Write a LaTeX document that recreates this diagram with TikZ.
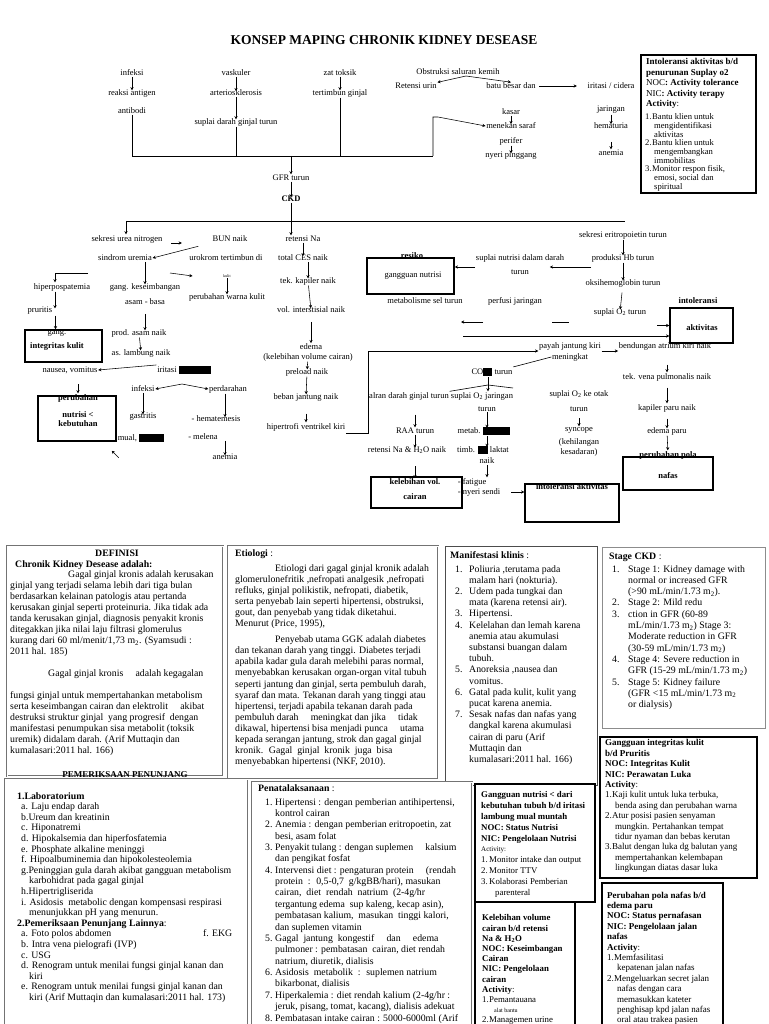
\documentclass[tikz,border=0pt]{standalone}
\usepackage{fontspec}
\setmainfont{Liberation Serif}
\usepackage{tikz}
\usetikzlibrary{arrows.meta}
\newcommand{\mapfont}{\fontsize{8.5}{9}\selectfont}
\newcommand{\tinyfont}{\fontsize{4}{4}\selectfont}
\newcommand{\bodyfont}{\fontsize{9.8}{11}\selectfont}
\newcommand{\cardfont}{\fontsize{9}{10.4}\selectfont}
\newcommand{\itm}[2][14pt]{\makebox[#1][l]{#2}}
\newcommand{\ind}[1][14pt]{\hspace*{#1}}
\newcommand{\blot}[1]{\rule[-1.6pt]{#1}{8.5pt}}
\tikzset{
  lbl/.style     = {font=\mapfont, inner sep=0.6pt, align=center},
  lblb/.style    = {lbl, font=\mapfont\bfseries},
  mapbox/.style  = {draw, line width=1.5pt, fill=white, inner sep=0pt},
  flow/.style    = {-{Stealth[length=3.2pt,width=3.2pt]}, line width=0.55pt},
  stub/.style    = {flow, shorten >=-2pt},
  link/.style    = {line width=0.6pt},
  panel/.style   = {draw=black!55, double=white, double distance=1pt,
                    line width=0.45pt, fill=white, inner sep=0pt,
                    outer sep=0pt, anchor=north west},
  sheet/.style   = {draw=black!70, line width=0.8pt, fill=white,
                    inner sep=0pt, outer sep=0pt, anchor=north west},
  card/.style    = {draw, line width=1.6pt, fill=white, inner sep=0pt,
                    outer sep=0pt, anchor=north west},
  body/.style    = {font=\bodyfont, align=left, inner sep=0pt, anchor=north west},
  cardtxt/.style = {font=\cardfont, align=left, inner sep=0pt, anchor=north west},
}
\begin{document}
\begin{tikzpicture}[x=1pt, y=-1pt]
\path[use as bounding box, fill=white] (0,0) rectangle (768,1024);

\node[font=\fontsize{13.5}{15}\selectfont\bfseries, inner sep=0pt] (title)
  at (384,40) {KONSEP MAPING CHRONIK KIDNEY DESEASE};

% ---------- causes --------------------------------------------------
\node[lbl] (inf)   at (132,73)  {infeksi};
\node[lbl] (rag)   at (132,93)  {reaksi antigen};
\node[lbl] (ab)    at (132,111) {antibodi};
\node[lbl] (vask)  at (236,73)  {vaskuler};
\node[lbl] (arter) at (236,93)  {arteriosklerosis};
\node[lbl] (supd)  at (236,122) {suplai darah ginjal turun};
\node[lbl] (zat)   at (340,73)  {zat toksik};
\node[lbl] (tert)  at (340,93)  {tertimbun ginjal};
\node[lbl] (obs)   at (458,72)  {Obstruksi saluran kemih};
\node[lbl] (ret)   at (416,86)  {Retensi urin};
\node[lbl] (batu)  at (511,86)  {batu besar dan};
\node[lbl] (kasar) at (511,112) {kasar};
\node[lbl] (saraf) at (511,126) {menekan saraf};
\node[lbl] (perif) at (511,141) {perifer};
\node[lbl] (nyeri) at (511,156) {nyeri pinggang};
\node[lbl] (irit)  at (611,86)  {iritasi / cidera};
\node[lbl] (jar)   at (611,110) {jaringan};
\node[lbl] (hem)   at (611,126) {hematuria};
\node[lbl] (anem)  at (611,153) {anemia};
\node[lbl] (gfr)   at (291,178) {GFR turun};
\node[lblb] (ckd)  at (291,199) {CKD};

\draw[stub] (inf) -- (rag);
\draw[stub] (vask) -- (arter);
\draw[stub] (arter) -- (supd);
\draw[stub] (zat) -- (tert);
\coordinate (obsP) at (466,76);
\draw[flow] (obsP) -- (ret.north east);
\draw[flow] (obsP) -- (batu.north);
\draw[stub] (kasar) -- (saraf);
\draw[stub] (perif) -- (nyeri);
\draw[flow, shorten <=3pt, shorten >=10pt] (batu.east) -- (irit.west);
\draw[stub] (jar) -- (hem);
\draw[flow, shorten <=12pt] (hem) -- (anem);

% first bus, into GFR
\coordinate (busR) at (433,156);
\draw[link] (ab.south) |- (busR);
\draw[link] (supd.south) -- (supd.south |- busR);
\draw[link] (tert.south) -- (tert.south |- busR);
\draw[flow] (busR) -- ++(0,-39) -- ++(5,0) -- (saraf.west);
\draw[flow] (gfr.north |- busR) -- (gfr.north);
\draw[stub] (gfr) -- (ckd);

% top right card
\node[card, minimum width=115, minimum height=138] (actbox) at (641,55) {};
\node[cardtxt, font=\fontsize{9}{10.5}\selectfont\bfseries] (acthead) at (646,58.5)
  {Intoleransi aktivitas b/d\\ penurunan Suplay o2\\ \textmd{NOC}: Activity tolerance\\
   \textmd{NIC}: Activity terapy\\ Activity\textmd{:}};
\node[cardtxt, font=\fontsize{8.6}{8.7}\selectfont] (actlist) at (645,113.5)
  {\itm[7pt]{1.}Bantu klien untuk\\ \ind[9pt]mengidentifikasi\\ \ind[9pt]aktivitas\\
   \itm[7pt]{2.}Bantu klien untuk\\ \ind[9pt]mengembangkan\\ \ind[9pt]immobilitas\\
   \itm[7pt]{3.}Monitor respon fisik,\\ \ind[9pt]emosi, social dan\\ \ind[9pt]spiritual};

% ---------- CKD branches ---------------------------------------------
\coordinate (bus2L) at (126,221);
\coordinate (bus2R) at (625,221);
\draw[link] (ckd.south) -- (ckd.south |- bus2L);
\draw[link] (bus2L) -- (bus2R);

\node[lbl] (sun)  at (127,239) {sekresi urea nitrogen};
\node[lbl] (bun)  at (230,239) {BUN naik};
\node[lbl] (rna)  at (303,239) {retensi Na};
\node[lbl] (sur)  at (125,258) {sindrom uremia};
\node[lbl] (urok) at (226,258) {urokrom tertimbun di};
\node[lbl] (ces)  at (303,258) {total CES naik};
\node[lbl, font=\tinyfont] (kul) at (227,276) {kulit};
\node[lbl] (hip)  at (62,287)  {hiperpospatemia};
\node[lbl] (gkb)  at (145,287) {gang. keseimbangan};
\node[lbl] (asb)  at (145,302) {asam - basa};
\node[lbl] (pwk)  at (227,297) {perubahan warna kulit};
\node[lbl] (tkn)  at (308,281) {tek. kapiler naik};
\node[lbl] (prur) at (40,311)  {pruritis};
\node[lbl] (vin)  at (311,310) {vol. interstisial naik};
\node[mapbox, minimum width=77, minimum height=32] (gik) at (63.5,346) {};
\node[lbl]  (gikA) at (57,333) {gang.};
\node[lblb] (gikB) at (57,346) {integritas kulit};
\node[lbl] (pan)  at (139,333) {prod. asam naik};
\node[lbl] (aln)  at (141,353) {as. lambung naik};
\node[lbl] (nv)   at (70,370)  {nausea, vomitus};
\node[lbl] (iri)  at (184,370) {iritasi \blot{32pt}};
\node[lbl] (ede)  at (311,347) {edema};
\node[lbl] (kvc)  at (308,357) {(kelebihan volume cairan)};
\node[lbl] (pre)  at (307,372) {preload naik};

\draw[flow] (bus2L) -- (bus2L |- sun.north);
\draw[flow] (ckd.south |- bus2L) -- (ckd.south |- rna.north);
\draw[flow, shorten <=8pt, shorten >=30pt] ([yshift=-4pt]sun.east) -- ([yshift=-4pt]bun.west);
\draw[flow, shorten <=14pt] (bun.south west) -- (sur.east);
\coordinate (hipK) at (88,273);
\draw[flow] (hipK) -| ([xshift=-7pt]hip.north);
\draw[stub] (gkb.north |- sur.south) -- (gkb.north);
\coordinate (kulA) at (170,273);
\draw[flow] (kulA) -- ([xshift=-30pt]kul.west);
\draw[stub] (kul) -- (pwk);
\draw[stub] (rna) -- (ces);
\draw[stub] (tkn.north |- ces.south) -- (tkn.north);
\draw[stub] (tkn) -- (vin);
\draw[flow, shorten <=8pt] (vin) -- (ede);
\draw[stub] (kvc) -- (pre);
\draw[stub] ([xshift=-7pt]hip.south) -- ([xshift=-7pt]hip.south |- prur.north);
\draw[flow] ([xshift=-8pt]gik.north |- prur.south) -- ([xshift=-8pt]gik.north);
\draw[stub, shorten <=8pt] (asb) -- (asb |- pan.north);
\draw[stub] (pan) -- (aln);
\draw[flow] (iri.north west) -- (nv.east);

% gastric branch
\node[lbl] (inf2)  at (143,389) {infeksi};
\node[lbl] (perd)  at (228,389) {perdarahan};
\node[mapbox, minimum width=78, minimum height=45] (nutbox) at (77,418.5) {};
\node[lblb] (nutA) at (78,398) {perubahan};
\node[lblb] (nutB) at (78,419.5) {nutrisi <\\ kebutuhan};
\node[lbl] (gast)  at (143,417) {gastritis};
\node[lbl] (hemt)  at (216,419) {- hematemesis};
\node[lbl] (mual)  at (141,438) {mual, \blot{25pt}};
\node[lbl] (mel)   at (203,437) {- melena};
\node[lbl] (anem2) at (225,457) {anemia};

\coordinate (iriP) at (182,384);
\draw[flow] (iriP) -- (inf2.east);
\draw[flow] (iriP) -- (perd.west);
\draw[flow, shorten <=10pt] ([xshift=8pt]nv.south) -- (nutA.north);
\draw[stub] (inf2) -- (gast);
\draw[stub] ([xshift=-3pt]perd.south) -- ([xshift=-3pt]perd.south |- hemt.north);
\draw[stub] (anem2.north |- mel.south) -- (anem2.north);
\draw[flow] ([shift={(2pt,-16pt)}]nutbox.south east) -- ([shift={(-5pt,-9pt)}]nutbox.south east);

% ---------- blood, oxygen and heart ---------------------------------
\node[lbl] (seri) at (623,235) {sekresi eritropoietin turun};
\node[lbl] (phb)  at (623,258) {produksi Hb turun};
\node[lbl] (snd)  at (520,258) {suplai nutrisi dalam darah};
\node[lbl] (snt)  at (520,272) {turun};
\node[mapbox, minimum width=87, minimum height=36] (gnbox) at (410.5,276) {};
\node[lblb] (gnA) at (412,256) {resiko};
\node[lbl]  (gnB) at (413,276) {gangguan nutrisi};
\node[lbl] (oks)  at (623,283) {oksihemoglobin turun};
\node[lbl] (mst)  at (425,301) {metabolisme sel turun};
\node[lbl] (pfj)  at (515,301) {perfusi jaringan};
\node[lblb] (intl) at (698,301) {intoleransi};
\node[lbl] (so2)  at (620,312) {suplai O\textsubscript{2} turun};
\node[mapbox, minimum width=63, minimum height=35] (aktbox) at (701.5,325.5) {};
\node[lblb] (aktA) at (702,328) {aktivitas};
\node[lbl] (pjk)  at (570,346) {payah jantung kiri};
\node[lbl] (mgk)  at (570,357) {meningkat};
\node[lbl] (bak)  at (665,346) {bendungan atrium kiri naik};
\node[lbl] (co)   at (492,372) {CO\blot{9pt} turun};
\node[lbl] (tvp)  at (667,377) {tek. vena pulmonalis naik};
\node[lbl] (bjn)  at (306,397) {beban jantung naik};
\node[lbl] (hvk)  at (306,427) {hipertrofi ventrikel kiri};

\draw[stub] (seri) -- (phb);
\draw[stub] (phb) -- (oks);
\draw[stub, shorten <=5pt] (oks) -- (so2);
\draw[flow, shorten >=20pt] ([yshift=-9pt]phb.west) -- ([yshift=-9pt]phb.west -| snt.east);
\draw[flow] ([yshift=-9pt]snd.west) -- ([yshift=-9pt]snd.west -| gnbox.east);
\coordinate (pfA) at (483,322);
\coordinate (pfB) at (552,322);
\draw[flow] (pfA) -- ++(-22,0);
\draw[link] (pfB) -- ++(17,0);
\draw[flow] ([xshift=-12pt]aktbox.west) -- (aktbox.west);
\coordinate (longA) at (463,336);
\draw[flow] (longA) -- (longA -| aktbox.west);
\draw[stub] (pre) -- (bjn);
\draw[flow, shorten <=12pt] (bjn) -- (hvk);
\draw[flow] ([yshift=-6pt]hvk.east) -- ++(22,0) |- ([yshift=-5pt]pjk.west);
\draw[flow] ([yshift=-5pt]pjk.east) -- ([yshift=-5pt]bak.west);
\draw[link] (mgk.west) -- (co.north east);
\draw[flow, shorten <=14pt] (tvp.north |- bak.south) -- (tvp.north);

% ---------- cardiac output branches ---------------------------------
\node[lbl] (adg)   at (409,396) {alran darah ginjal turun};
\node[lbl] (soj)   at (482,396) {suplai O\textsubscript{2} jaringan};
\node[lbl] (sojt)  at (487,409) {turun};
\node[lbl] (raa)   at (415,431) {RAA turun};
\node[lbl] (metab) at (484,431) {metab. \blot{27pt}};
\node[lbl] (rnh)   at (407,450) {retensi Na \& H\textsubscript{2}O naik};
\node[lbl] (timb)  at (483,450) {timb. \blot{10pt} laktat};
\node[lbl] (naik)  at (487,461) {naik};
\node[mapbox, minimum width=91, minimum height=31] (kvbox) at (416.5,492.5) {};
\node[lblb] (kvA)  at (415,482) {kelebihan vol.};
\node[lblb] (kvB)  at (415,497) {cairan};
\node[lbl, anchor=west] (fat) at (457,482) {- fatigue};
\node[lbl, anchor=west] (nys) at (457,492) {- nyeri sendi};
\node[mapbox, minimum width=94, minimum height=38] (iabox) at (572,503) {};
\node[lblb] (iaA)  at (572,487) {intoleransi aktivitas};
\node[lbl] (sok)   at (579,394) {suplai O\textsubscript{2} ke otak};
\node[lbl] (sokt)  at (579,409) {turun};
\node[lbl] (syn)   at (579,430) {syncope};
\node[lbl] (keh)   at (579,442) {(kehilangan};
\node[lbl] (kes)   at (579,452) {kesadaran)};
\node[lbl] (kpn)   at (667,408) {kapiler paru naik};
\node[lbl] (edp)   at (667,431) {edema paru};
\node[mapbox, minimum width=90, minimum height=33] (ppbox) at (668,473.5) {};
\node[lblb] (ppA)  at (668,455) {perubahan pola};
\node[lblb] (ppB)  at (668,476) {nafas};

\coordinate (coP) at (488,385);
\draw[link] (coP) -- (adg.north east);
\draw[link] (coP) -- ++(25,3);
\draw[flow] (co.south -| coP) -- (coP |- soj.north);
\draw[flow, shorten <=14pt] (raa.north |- adg.south) -- (raa.north);
\draw[stub] (raa) -- (raa |- rnh.north);
\draw[flow, shorten <=12pt] (kvA.north |- rnh.south) -- (kvA.north);
\draw[stub] (sojt) -- (sojt |- metab.north);
\draw[stub] (sojt |- metab.south) -- (sojt |- timb.north);
\draw[flow] (naik) -- (naik |- fat.north);
\draw[flow, shorten <=10pt] (nys.east) -- (nys.east -| iabox.west);
\draw[flow, shorten <=6pt] (sokt) -- (syn);
\draw[flow, shorten <=6pt] (tvp) -- (kpn);
\draw[stub, shorten <=6pt] (kpn) -- (edp);
\draw[flow] (edp) -- (ppA);

% ---------- text panels ---------------------------------------------
\node[panel, minimum width=216, minimum height=230] (defbox) at (7,546) {};
\node[font=\bodyfont\bfseries, inner sep=0pt] (defttl) at (117,553) {DEFINISI};
\node[body, font=\bodyfont\bfseries] (defsub) at (15,560) {Chronik Kidney Desease adalah:};
\node[body] (deftxt) at (10,570.5)
  {\hspace*{58pt}Gagal ginjal kronis adalah kerusakan\\
   ginjal yang terjadi selama lebih dari tiga bulan\\
   berdasarkan kelainan patologis atau pertanda\\
   kerusakan ginjal seperti proteinuria. Jika tidak ada\\
   tanda kerusakan ginjal, diagnosis penyakit kronis\\
   ditegakkan jika nilai laju filtrasi glomerulus\\
   kurang dari 60 ml/menit/1,73 m\textsubscript{2}. (Syamsudi :\\
   2011 hal. 185)\\[11pt]
   \hspace*{38pt}Gagal ginjal kronis \quad adalah kegagalan\\[11pt]
   fungsi ginjal untuk mempertahankan metabolism\\
   serta keseimbangan cairan dan elektrolit \quad akibat\\
   destruksi struktur ginjal \ yang progresif \ dengan\\
   manifestasi penumpukan sisa metabolit (toksik\\
   uremik) didalam darah. (Arif Muttaqin dan\\
   kumalasari:2011 hal. 166)};

\node[panel, minimum width=210, minimum height=233] (etibox) at (228,546) {};
\node[body, font=\bodyfont\bfseries] (etittl) at (235,549) {Etiologi \textmd{:}};
\node[body, font=\fontsize{9.8}{11.1}\selectfont] (etitxt) at (235,564)
  {\hspace*{40pt}Etiologi dari gagal ginjal kronik adalah\\
   glomerulonefritik ,nefropati analgesik ,nefropati\\
   refluks, ginjal polikistik, nefropati, diabetik,\\
   serta penyebab lain seperti hipertensi, obstruksi,\\
   gout, dan penyebab yang tidak diketahui.\\
   Menurut (Price, 1995),\\[5pt]
   \hspace*{40pt}Penyebab utama GGK adalah diabetes\\
   dan tekanan darah yang tinggi. Diabetes terjadi\\
   apabila kadar gula darah melebihi paras normal,\\
   menyebabkan kerusakan organ-organ vital tubuh\\
   seperti jantung dan ginjal, serta pembuluh darah,\\
   syaraf dan mata. Tekanan darah yang tinggi atau\\
   hipertensi, terjadi apabila tekanan darah pada\\
   pembuluh darah \quad meningkat dan jika \quad tidak\\
   dikawal, hipertensi bisa menjadi punca \quad utama\\
   kepada serangan jantung, strok dan gagal ginjal\\
   kronik. \ Gagal \ ginjal \ kronik \ juga \ bisa\\
   menyebabkan hipertensi (NKF, 2010).};

\node[sheet, minimum width=152, minimum height=239] (manbox) at (445,546) {};
\node[body, font=\bodyfont\bfseries] (manttl) at (450,551) {Manifestasi klinis \textmd{:}};
\node[body, font=\fontsize{9.8}{11.2}\selectfont] (mantxt) at (455,565)
  {\itm{1.}Poliuria ,terutama pada\\ \ind malam hari (nokturia).\\
   \itm{2.}Udem pada tungkai dan\\ \ind mata (karena retensi air).\\
   \itm{3.}Hipertensi.\\
   \itm{4.}Kelelahan dan lemah karena\\ \ind anemia atau akumulasi\\
   \ind substansi buangan dalam\\ \ind tubuh.\\
   \itm{5.}Anoreksia ,nausea dan\\ \ind vomitus.\\
   \itm{6.}Gatal pada kulit, kulit yang\\ \ind pucat karena anemia.\\
   \itm{7.}Sesak nafas dan nafas yang\\ \ind dangkal karena akumulasi\\
   \ind cairan di paru (Arif\\ \ind Muttaqin dan\\ \ind kumalasari:2011 hal. 166)};

\node[sheet, draw=black!45, line width=0.6pt, minimum width=163, minimum height=181] (stgbox) at (602,547) {};
\node[body, font=\bodyfont\bfseries] (stgttl) at (609,553) {Stage CKD \textmd{:}};
\node[body, font=\fontsize{9.8}{11.3}\selectfont] (stgtxt) at (612,565)
  {\itm[16pt]{1.}Stage 1: Kidney damage with\\ \ind[16pt]normal or increased GFR\\
   \ind[16pt](>90 mL/min/1.73 m\textsubscript{2}).\\
   \itm[16pt]{2.}Stage 2: Mild redu\\
   \itm[16pt]{3.}ction in GFR (60-89\\ \ind[16pt]mL/min/1.73 m\textsubscript{2}) Stage 3:\\
   \ind[16pt]Moderate reduction in GFR\\ \ind[16pt](30-59 mL/min/1.73 m\textsubscript{2})\\
   \itm[16pt]{4.}Stage 4: Severe reduction in\\ \ind[16pt]GFR (15-29 mL/min/1.73 m\textsubscript{2})\\
   \itm[16pt]{5.}Stage 5: Kidney failure\\ \ind[16pt](GFR <15 mL/min/1.73 m\textsubscript{2}\\
   \ind[16pt]or dialysis)};

\node[panel, minimum width=243, minimum height=252] (pembox) at (5,779) {};
\node[font=\fontsize{9}{10}\selectfont\bfseries, inner sep=0pt] (pemttl) at (125,775)
  {PEMERIKSAAN PENUNJANG};
\node[body, font=\fontsize{9.8}{10.6}\selectfont] (pemtxt) at (17,792)
  {\textbf{1.Laboratorium}\\
   \ind[4pt]a. Laju endap darah\\
   \ind[4pt]b.Ureum dan kreatinin\\
   \ind[4pt]c. Hiponatremi\\
   \ind[4pt]d. Hipokalsemia dan hiperfosfatemia\\
   \ind[4pt]e. Phosphate alkaline meninggi\\
   \ind[4pt]f. Hipoalbuminemia dan hipokolesteolemia\\
   \ind[4pt]g.Peninggian gula darah akibat gangguan metabolism\\
   \ind[12pt]karbohidrat pada gagal ginjal\\
   \ind[4pt]h.Hipertrigliserida\\
   \ind[4pt]i. Asidosis \ metabolic dengan kompensasi respirasi\\
   \ind[12pt]menunjukkan pH yang menurun.\\
   \textbf{2.Pemeriksaan Penunjang Lainnya}:\\
   \ind[4pt]\makebox[182pt][l]{a. Foto polos abdomen}f. EKG\\
   \ind[4pt]b. Intra vena pielografi (IVP)\\
   \ind[4pt]c. USG\\
   \ind[4pt]d. Renogram untuk menilai fungsi ginjal kanan dan\\
   \ind[12pt]kiri\\
   \ind[4pt]e. Renogram untuk menilai fungsi ginjal kanan dan\\
   \ind[12pt]kiri (Arif Muttaqin dan kumalasari:2011 hal. 173)};

\node[panel, minimum width=220, minimum height=250] (penbox) at (252,782) {};
\node[body, font=\bodyfont\bfseries] (penttl) at (258,784) {Penatalaksanaan \textmd{:}};
\node[body, font=\fontsize{9.8}{11.37}\selectfont] (pentxt) at (265,798)
  {\itm[10pt]{1.}Hipertensi : dengan pemberian antihipertensi,\\ \ind[10pt]kontrol cairan\\
   \itm[10pt]{2.}Anemia : dengan pemberian eritropoetin, zat\\ \ind[10pt]besi, asam folat\\
   \itm[10pt]{3.}Penyakit tulang : dengan suplemen \quad kalsium\\ \ind[10pt]dan pengikat fosfat\\
   \itm[10pt]{4.}Intervensi diet : pengaturan protein \quad (rendah\\
   \ind[10pt]protein \ : \ 0,5-0,7 \ g/kgBB/hari), masukan\\
   \ind[10pt]cairan, \ diet \ rendah \ natrium \ (2-4g/hr\\
   \ind[10pt]tergantung edema \ sup kaleng, kecap asin),\\
   \ind[10pt]pembatasan kalium, \ masukan \ tinggi kalori,\\
   \ind[10pt]dan suplemen vitamin\\
   \itm[10pt]{5.}Gagal \ jantung \ kongestif \quad dan \quad edema\\
   \ind[10pt]pulmoner : pembatasan \ cairan, diet rendah\\
   \ind[10pt]natrium, diuretik, dialisis\\
   \itm[10pt]{6.}Asidosis \ metabolik \ : \ suplemen natrium\\ \ind[10pt]bikarbonat, dialisis\\
   \itm[10pt]{7.}Hiperkalemia : diet rendah kalium (2-4g/hr :\\
   \ind[10pt]jeruk, pisang, tomat, kacang), dialisis adekuat\\
   \itm[10pt]{8.}Pembatasan intake cairan : 5000-6000ml (Arif};

% ---------- nursing cards ---------------------------------------------
\node[card, minimum width=157, minimum height=141] (gikcard) at (600,737) {};
\node[cardtxt] (giktxt) at (605,739.5)
  {\textbf{Gangguan integritas kulit}\\ \textbf{b/d Pruritis}\\
   \textbf{NOC: Integritas Kulit}\\ \textbf{NIC: Perawatan Luka}\\ \textbf{Activity}:\\
   \itm[7pt]{1.}Kaji kulit untuk luka terbuka,\\ \ind[10pt]benda asing dan perubahan warna\\
   \itm[7pt]{2.}Atur posisi pasien senyaman\\ \ind[10pt]mungkin. Pertahankan tempat\\
   \ind[10pt]tidur nyaman dan bebas kerutan\\
   \itm[7pt]{3.}Balut dengan luka dg balutan yang\\ \ind[10pt]mempertahankan kelembapan\\
   \ind[10pt]lingkungan diatas dasar luka};

\node[card, minimum width=121, minimum height=150] (ppcard) at (602,883) {};
\node[cardtxt] (pptxt) at (607,891.5)
  {\textbf{Perubahan pola nafas b/d}\\ \textbf{edema paru}\\
   \textbf{NOC: Status pernafasan}\\ \textbf{NIC: Pengelolaan jalan}\\ \textbf{nafas}\\
   \textbf{Activity}:\\
   \itm[7pt]{1.}Memfasilitasi\\ \ind[10pt]kepatenan jalan nafas\\
   \itm[7pt]{2.}Mengeluarkan secret jalan\\ \ind[10pt]nafas dengan cara\\
   \ind[10pt]memasukkan kateter\\ \ind[10pt]penghisap kpd jalan nafas\\
   \ind[10pt]oral atau trakea pasien};

\node[card, minimum width=120, minimum height=118] (gncard) at (475,784) {};
\node[cardtxt, font=\fontsize{8.8}{10.8}\selectfont] (gntxt) at (481,791.5)
  {\textbf{Gangguan nutrisi < dari}\\ \textbf{kebutuhan tubuh b/d iritasi}\\
   \textbf{lambung mual muntah}\\ \textbf{NOC: Status Nutrisi}\\
   \textbf{NIC: Pengelolaan Nutrisi}\\ {\fontsize{7}{8}\selectfont Activity:}\\
   \itm[8pt]{1.}Monitor intake dan output\\ \itm[8pt]{2.}Monitor TTV\\
   \itm[8pt]{3.}Kolaborasi Pemberian\\ \ind[14pt]parenteral};

\node[card, minimum width=100, minimum height=130] (kvcard) at (475,902) {};
\node[cardtxt, font=\fontsize{8.8}{10.2}\selectfont] (kvtxt) at (482,914.5)
  {\textbf{Kelebihan volume}\\ \textbf{cairan b/d retensi}\\ \textbf{Na \& H\textsubscript{2}O}\\
   \textbf{NOC: Keseimbangan}\\ \textbf{Cairan}\\ \textbf{NIC: Pengelolaan}\\
   \textbf{cairan}\\ \textbf{Activity}:\\
   \itm[7pt]{1.}Pemantauana\\ \ind[12pt]{\fontsize{6}{7}\selectfont alat bantu}\\
   \itm[7pt]{2.}Managemen urine};

\end{tikzpicture}
\end{document}
